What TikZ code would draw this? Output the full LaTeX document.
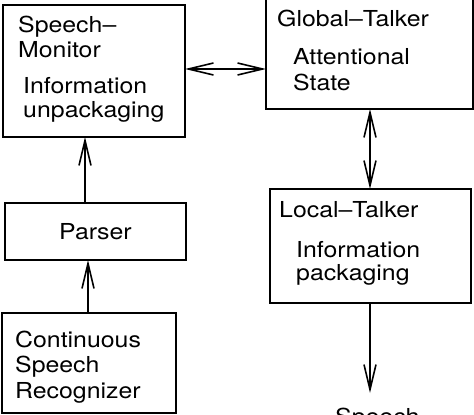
\documentclass[tikz,border=0pt]{standalone}
\usepackage{fontspec}
\setmainfont{TeX Gyre Heros}[FakeStretch=1.13]
\usetikzlibrary{arrows.meta}
\begin{document}
\begin{tikzpicture}[x=1pt,y=-1pt,
  box/.style={draw,line width=1.6pt,rectangle,anchor=north west,inner sep=0pt,outer sep=0pt},
  lbl/.style={anchor=base west,inner sep=0pt,font=\fontsize{22}{26}\selectfont},
  arr/.style={line width=1.6pt,{Straight Barb[length=25pt,width=12pt]}-{Straight Barb[length=25pt,width=12pt]}},
  sarr/.style={line width=1.6pt,-{Straight Barb[length=25pt,width=12pt]}}]
\useasboundingbox (0,0) rectangle (474,415);
\fill[white] (0,0) rectangle (474,415);
% boxes
\node[box,minimum width=182pt,minimum height=132pt] (sm) at (3,5) {};
\node[box,minimum width=207pt,minimum height=112pt] (gt) at (266,-3) {};
\node[box,minimum width=201pt,minimum height=114pt] (lt) at (270,189) {};
\node[box,minimum width=181pt,minimum height=57pt,font=\fontsize{22}{26}\selectfont] (parser) at (5,203) {Parser};
\node[box,minimum width=174pt,minimum height=100pt] (csr) at (2,313) {};
% texts
\node[lbl] (t1) at (18,32) {Speech–};
\node[lbl] (t2) at (18,57) {Monitor};
\node[lbl] (t3) at (23,93) {Information};
\node[lbl] (t4) at (23,117) {unpackaging};
\node[lbl] (t5) at (277,27) {Global–Talker};
\node[lbl] (t6) at (293,64) {Attentional};
\node[lbl] (t7) at (293,90) {State};
\node[lbl] (t8) at (279,217) {Local–Talker};
\node[lbl] (t9) at (296,257) {Information};
\node[lbl] (t10) at (296,280) {packaging};
\node[lbl] (t11) at (15,347) {Continuous};
\node[lbl] (t12) at (15,372) {Speech};
\node[lbl] (t13) at (15,398) {Recognizer};
\node[lbl] (t14) at (335,424) {Speech};
% helper coordinates
\coordinate (ya) at (0,69);
\coordinate (xb) at (370,0);
\coordinate (xc) at (85,0);
\coordinate (xd) at (88,0);
\coordinate (out) at (370,393);
% connectors
\draw[arr] (sm.east |- ya) -- (gt.west |- ya);
\draw[arr] (gt.south -| xb) -- (lt.north -| xb);
\draw[sarr] (parser.north -| xc) -- (sm.south -| xc);
\draw[sarr] (csr.north -| xd) -- (parser.south -| xd);
\draw[sarr] (lt.south -| xb) -- (out);
\end{tikzpicture}
\end{document}
